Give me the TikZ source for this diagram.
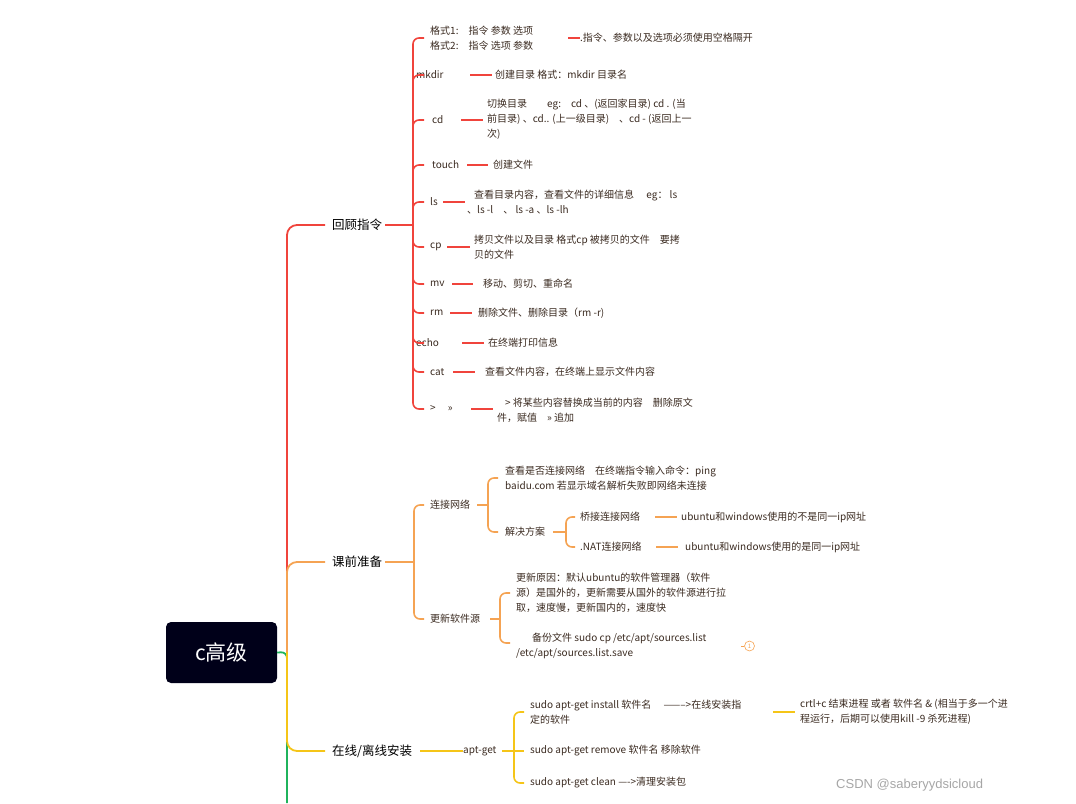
\documentclass[tikz,border=0pt]{standalone}
\usepackage{fontspec}
\setmainfont{Noto Sans CJK SC}
\newfontfamily\wmfont{Liberation Sans}
\begin{document}
\definecolor{cred}{HTML}{F0443C}
\definecolor{corg}{HTML}{F5A353}
\definecolor{cyel}{HTML}{F5C518}
\definecolor{cgrn}{HTML}{1FB35C}
\definecolor{ctxt}{HTML}{3A2A20}
\begin{tikzpicture}[x=1pt,y=-1pt,
  txt/.style={anchor=west,inner sep=0pt,align=left,text=ctxt,font=\fontsize{10}{15}\selectfont},
  top/.style={anchor=west,inner sep=0pt,text=black,font=\fontsize{12.5}{15}\selectfont},
  lr/.style={draw=cred,line width=1.6pt,rounded corners=6pt},
  lo/.style={draw=corg,line width=1.6pt,rounded corners=6pt},
  ly/.style={draw=cyel,line width=1.6pt,rounded corners=6pt},
  lg/.style={draw=cgrn,line width=1.8pt,rounded corners=6pt},
  tr/.style={draw=cred,line width=1.8pt,rounded corners=10pt},
  to/.style={draw=corg,line width=1.8pt,rounded corners=10pt},
  ty/.style={draw=cyel,line width=1.8pt,rounded corners=10pt}]
\useasboundingbox (0,0) rectangle (1076,803);
% root
\node[fill=black!90!blue,rounded corners=5pt,minimum width=111pt,minimum height=61pt,text=white,font=\fontsize{21}{24}\selectfont] (root) at (221.5,652.5) {c高级};
\coordinate (rj) at (287,652);
\draw[lg] (root.east) -- (rj) -- (287,803);
% top branches
\node[top] (t1) at (332,225) {回顾指令};
\node[top] (t2) at (332,562) {课前准备};
\node[top] (t3) at (332,751) {在线/离线安装};
\draw[tr] (rj) |- (325,225);
\draw[to] (rj) |- (325,562);
\draw[ty] (rj) |- (325,751);

% ---------- 回顾指令 ----------
\coordinate (r1) at (413,225);
\draw[lr] (t1.east) ++(3,0) -- (r1);
\node[txt] (a1) at (430,38) {格式1:　指令 参数 选项\\格式2:　指令 选项 参数};
\node[txt] (a2) at (416,75) {mkdir};
\node[txt] (a3) at (432,120) {cd};
\node[txt] (a4) at (432,165) {touch};
\node[txt] (a5) at (430,202) {ls};
\node[txt] (a6) at (430,247) {cp};
\node[txt] (a7) at (430,284) {mv};
\node[txt] (a8) at (430,313) {rm};
\node[txt] (a9) at (416,343) {echo};
\node[txt] (a10) at (430,372) {cat};
\node[txt] (a11) at (430,409) {>　 >>};
\foreach \y in {38,75,120,165,202,247,284,313,343,372,409}
  \draw[lr] (r1) |- (424,\y);
\node[txt] (d1) at (580,38) {.指令、参数以及选项必须使用空格隔开};
\node[txt] (d2) at (495,75) {创建目录  格式：mkdir 目录名};
\node[txt] (d3) at (487,119) {切换目录　　eg:　cd 、(返回家目录) cd . (当\\前目录) 、cd.. (上一级目录)　、cd - (返回上一\\次)};
\node[txt] (d4) at (493,165) {创建文件};
\node[txt] (d5) at (467,202) {\hspace{7pt}查看目录内容，查看文件的详细信息　 eg： ls\\、ls -l　、 ls -a 、ls -lh};
\node[txt] (d6) at (474,247) {拷贝文件以及目录  格式cp 被拷贝的文件　要拷\\贝的文件};
\node[txt] (d7) at (483,284) {移动、剪切、重命名};
\node[txt] (d8) at (478,313) {删除文件、删除目录（rm -r)};
\node[txt] (d9) at (488,343) {在终端打印信息};
\node[txt] (d10) at (485,372) {查看文件内容，在终端上显示文件内容};
\node[txt] (d11) at (497,410) {\hspace{8pt}>  将某些内容替换成当前的内容　删除原文\\件，赋值　>> 追加};
\draw[lr] (568,38) -- (d1.west);
\draw[lr] (470,75) -- (492,75);
\draw[lr] (461,120) -- (483,120);
\draw[lr] (467,165) -- (488,165);
\draw[lr] (443,202) -- (465,202);
\draw[lr] (447,247) -- (470,247);
\draw[lr] (452,284) -- (473,284);
\draw[lr] (450,313) -- (472,313);
\draw[lr] (462,343) -- (484,343);
\draw[lr] (453,372) -- (475,372);
\draw[lr] (471,409) -- (493,409);

% ---------- 课前准备 ----------
\coordinate (o1) at (414,562);
\draw[lo] (t2.east) ++(3,0) -- (o1);
\node[txt] (b1) at (430,505) {连接网络};
\node[txt] (b2) at (430,619) {更新软件源};
\draw[lo] (o1) |- (424,505);
\draw[lo] (o1) |- (424,619);
\coordinate (o2) at (488,505);
\draw[lo] (477,505) -- (o2);
\node[txt] (b11) at (505,478) {查看是否连接网络　在终端指令输入命令：ping\\baidu.com  若显示域名解析失败即网络未连接};
\node[txt] (b12) at (505,532) {解决方案};
\draw[lo] (o2) |- (498,478);
\draw[lo] (o2) |- (498,532);
\coordinate (o3) at (566,532);
\draw[lo] (553,532) -- (o3);
\node[txt] (c1) at (580,517) {桥接连接网络};
\node[txt] (c2) at (580,547) {.NAT连接网络};
\draw[lo] (o3) |- (575,517);
\draw[lo] (o3) |- (575,547);
\node[txt] (e1) at (681,517) {ubuntu和windows使用的不是同一ip网址};
\node[txt] (e2) at (685,547) {ubuntu和windows使用的是同一ip网址};
\draw[lo] (655,517) -- (677,517);
\draw[lo] (656,547) -- (678,547);
\coordinate (o4) at (500,619);
\draw[lo] (490,619) -- (o4);
\node[txt] (b21) at (516,593) {更新原因：默认ubuntu的软件管理器（软件\\源）是国外的，更新需要从国外的软件源进行拉\\取，速度慢，更新国内的，速度快};
\node[txt] (b22) at (516,646) {\hspace{16pt}备份文件  sudo cp /etc/apt/sources.list\\/etc/apt/sources.list.save};
\draw[lo] (o4) |- (510,593);
\draw[lo] (o4) |- (510,643);
\node[circle,draw=corg,line width=0.6pt,inner sep=0pt,minimum size=10pt,text=corg,font=\fontsize{6}{6}\selectfont] (n1) at (749.5,646) {1};
\draw[draw=corg,line width=0.6pt] (741,646) -- (n1.west);

% ---------- 在线/离线安装 ----------
\node[txt] (g1) at (463,751) {apt-get};
\draw[ly] (t3.east) ++(8,0) -- (g1.west) ++(-4,0);
\coordinate (y1) at (514,751);
\draw[ly] (502,751) -- (y1);
\node[txt] (h1) at (530,712) {sudo apt-get install 软件名　 -------->在线安装指\\定的软件};
\node[txt] (h2) at (530,751) {sudo apt-get remove 软件名  移除软件};
\node[txt] (h3) at (530,783) {sudo apt-get clean ---->清理安装包};
\draw[ly] (y1) |- (524,712);
\draw[ly] (y1) -- (524,751);
\draw[ly] (y1) |- (524,783);
\node[txt] (h11) at (800,712) {crtl+c 结束进程  或者 软件名 \& (相当于多一个进\\程运行，后期可以使用kill -9 杀死进程)};
\draw[ly] (773,712) -- (795,712);
% watermark
\node[anchor=west,inner sep=0pt,text=black!35,font=\wmfont\fontsize{13}{15}\selectfont] (wm) at (836,785) {CSDN @saberyydsicloud};
\end{tikzpicture}
\end{document}
